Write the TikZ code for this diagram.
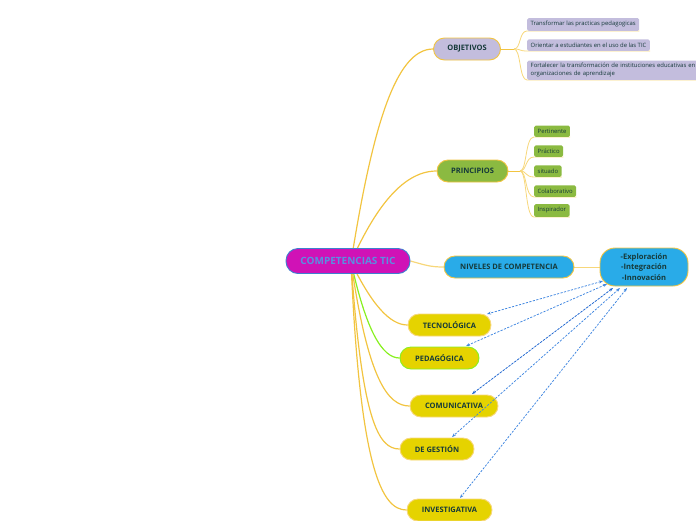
\documentclass[tikz,border=0pt]{standalone}
\usepackage{fontspec}
\setmainfont{Open Sans}
\usetikzlibrary{arrows.meta,backgrounds}
\definecolor{gold}{HTML}{F2C440}
\definecolor{lgold}{HTML}{F7D77A}
\definecolor{magentabox}{HTML}{D012B6}
\definecolor{centerborder}{HTML}{3D7FD0}
\definecolor{centertext}{HTML}{5A8FE0}
\definecolor{lavender}{HTML}{C3BDDD}
\definecolor{greenbox}{HTML}{8BBA41}
\definecolor{bluebox}{HTML}{29ABE8}
\definecolor{yellowbox}{HTML}{E5D300}
\definecolor{darktext}{HTML}{163A3A}
\definecolor{limeline}{HTML}{88F020}
\definecolor{relblue}{HTML}{3F86E0}
\definecolor{relblued}{HTML}{1F66D0}
\tikzset{
  mainbox/.style={rounded corners=11pt, draw=gold, line width=0.9pt, text=darktext,
    font=\fontsize{7.5}{8}\selectfont\bfseries, inner sep=0pt, minimum height=22pt, align=center},
  childbox/.style={fill=#1, text=darktext, font=\fontsize{5.9}{8}\selectfont,
    inner xsep=3.5pt, inner ysep=3.4pt, anchor=south west, rounded corners=1.5pt, align=left},
  branch/.style={draw=gold, line width=1.2pt},
  twig/.style={draw=lgold, line width=0.8pt},
  rel/.style={draw=relblue, dashed, dash pattern=on 2.2pt off 1.4pt, line width=0.75pt,
    {Stealth[length=4pt,width=3pt]}-{Stealth[length=4pt,width=3pt]}}
}
\begin{document}
\begin{tikzpicture}[x=1pt,y=-1pt]
\useasboundingbox (0,0) rectangle (696,520);

% central
\node[rounded corners=12pt, draw=centerborder, line width=0.9pt, fill=magentabox,
  text=centertext, font=\fontsize{10}{11}\selectfont\bfseries,
  minimum width=124pt, minimum height=25pt, inner sep=0pt] (ctr) at (348,261) {COMPETENCIAS TIC};
\coordinate (hub) at (351,262);

% main nodes
\node[mainbox, fill=lavender, minimum width=67pt] (obj) at (467,49) {OBJETIVOS};
\node[mainbox, fill=greenbox, minimum width=71pt] (pri) at (472.5,171) {PRINCIPIOS};
\node[mainbox, fill=bluebox, minimum width=130pt] (niv) at (509,267) {NIVELES DE COMPETENCIA};
\node[rounded corners=15pt, draw=gold, line width=0.9pt, fill=bluebox, text=darktext,
  font=\fontsize{7.6}{10.5}\selectfont\bfseries, minimum width=88pt, minimum height=38pt,
  inner sep=0pt, align=center] (exp) at (644,267) {-Exploración\\-Integración\\-Innovación};
\node[mainbox, fill=yellowbox, draw=lgold, minimum width=83pt] (tec) at (449.5,325) {TECNOLÓGICA};
\node[mainbox, fill=yellowbox, draw=limeline, minimum width=79pt] (ped) at (439.5,358) {PEDAGÓGICA};
\node[mainbox, fill=yellowbox, draw=lgold, minimum width=88pt] (com) at (454,406) {COMUNICATIVA};
\node[mainbox, fill=yellowbox, draw=lgold, minimum width=74pt] (ges) at (437,449) {DE GESTIÓN};
\node[mainbox, fill=yellowbox, draw=lgold, minimum width=85pt] (inv) at (449.5,510) {INVESTIGATIVA};

% objetivos children
\coordinate (of) at (514,49);
\node[childbox=lavender] (o1) at (527,31) {Transformar las practicas pedagogicas};
\node[childbox=lavender] (o2) at (527,51) {Orientar a estudiantes en el uso de las TIC};
\node[childbox=lavender, text width=170pt, inner ysep=2.6pt] (o3) at (527,80) {Fortalecer la transformación de instituciones educativas en\\organizaciones de aprendizaje};

% principios children
\coordinate (pf) at (520,171);
\node[childbox=greenbox] (p1) at (534,137) {Pertinente};
\node[childbox=greenbox] (p2) at (534,157) {Práctico};
\node[childbox=greenbox] (p3) at (534,177) {situado};
\node[childbox=greenbox] (p4) at (534,197) {Colaborativo};
\node[childbox=greenbox] (p5) at (534,217) {Inspirador};

% relation endpoints
\coordinate (e1) at (603,281);
\coordinate (e2) at (607,284);
\coordinate (e3) at (613,288);
\coordinate (e4) at (620,288);
\coordinate (e5) at (627,288);
\coordinate (t1) at (487,314);
\coordinate (t2) at (466,346);
\coordinate (t3) at (472,394);
\coordinate (t4) at (452,437);
\coordinate (t5) at (460,498);

\begin{scope}[on background layer]
  \draw[branch] (hub) .. controls (372,130) and (395,49) .. (obj.west);
  \draw[branch] (hub) .. controls (372,215) and (400,171) .. (pri.west);
  \draw[branch, draw=lgold] (ctr.east) .. controls (425,265) and (430,267) .. (niv.west);
  \draw[branch] (hub) .. controls (372,305) and (390,325) .. (tec.west);
  \draw[branch, draw=limeline] (hub) .. controls (366,330) and (382,358) .. (ped.west);
  \draw[branch] (hub) .. controls (368,380) and (388,406) .. (com.west);
  \draw[branch] (hub) .. controls (362,420) and (378,449) .. (ges.west);
  \draw[branch] (hub) .. controls (360,470) and (382,510) .. (inv.west);
  \draw[twig, line width=1pt] (niv.east) -- (exp.west);
  % objetivos twigs
  \draw[branch, line width=1pt] (obj.east) -- (of);
  \draw[twig] (of) .. controls (521,49) and (519,31) .. (o1.south west) -- (o1.south east);
  \draw[twig] (of) .. controls (521,49) and (519,51) .. (o2.south west) -- (o2.south east);
  \draw[twig] (of) .. controls (521,49) and (519,80) .. (o3.south west) -- (o3.south east);
  % principios twigs
  \draw[branch, line width=1pt] (pri.east) -- (pf);
  \draw[twig] (pf) .. controls (527,171) and (525,137) .. (p1.south west) -- (p1.south east);
  \draw[twig] (pf) .. controls (527,171) and (525,157) .. (p2.south west) -- (p2.south east);
  \draw[twig] (pf) .. controls (527,171) and (525,177) .. (p3.south west) -- (p3.south east);
  \draw[twig] (pf) .. controls (527,171) and (525,197) .. (p4.south west) -- (p4.south east);
  \draw[twig] (pf) .. controls (527,171) and (525,217) .. (p5.south west) -- (p5.south east);
\end{scope}

% relations
\draw[rel] (e1) -- (t1);
\draw[rel] (e2) -- (t2);
\draw[rel, draw=relblued, fill=relblued] (e3) -- (t3);
\draw[rel] (e4) -- (t4);
\draw[rel] (e5) -- (t5);
\end{tikzpicture}
\end{document}
